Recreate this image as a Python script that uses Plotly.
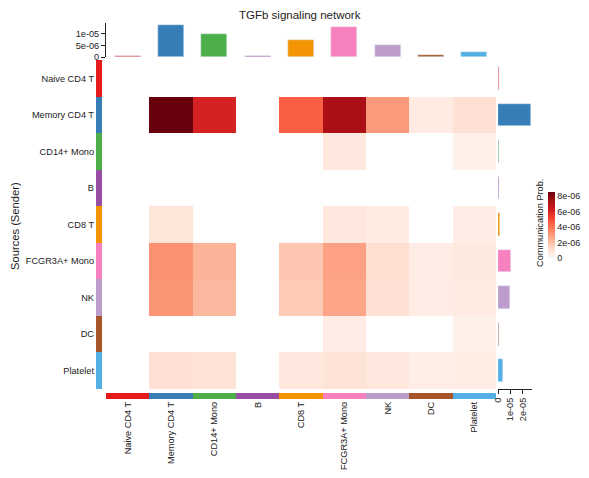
import plotly.graph_objects as go

# cell groups (senders on rows, receivers on columns)
cell_types = ["Naive CD4 T", "Memory CD4 T", "CD14+ Mono", "B", "CD8 T",
              "FCGR3A+ Mono", "NK", "DC", "Platelet"]
group_colors = ["#e41a1c", "#377eb8", "#4daf4a", "#984ea3", "#f29403",
                "#f781bf", "#bc9dcc", "#a65628", "#54b0e4"]

# communication probability, rows = sender, cols = receiver (None = 0)
prob = [
    [None, None, None, None, None, None, None, None, None],
    [None, 8.5e-06, 6.1e-06, None, 4.5e-06, 7.3e-06, 3.0e-06, 0.5e-06, 1.0e-06],
    [None, None, None, None, None, 0.7e-06, None, None, 0.2e-06],
    [None, None, None, None, None, None, None, None, None],
    [None, 0.8e-06, None, None, None, 0.7e-06, 0.5e-06, None, 0.4e-06],
    [None, 3.2e-06, 2.3e-06, None, 1.8e-06, 2.8e-06, 1.1e-06, 0.4e-06, 0.6e-06],
    [None, 3.1e-06, 2.2e-06, None, 1.7e-06, 2.7e-06, 1.0e-06, 0.4e-06, 0.5e-06],
    [None, None, None, None, None, 0.4e-06, None, None, 0.2e-06],
    [None, 1.0e-06, 0.9e-06, None, 0.7e-06, 0.9e-06, 0.7e-06, 0.35e-06, 0.45e-06],
]

# column totals (top barplot) and row totals (right barplot)
incoming = [0.04e-05, 1.38e-05, 0.97e-05, 0.03e-05, 0.72e-05,
            1.28e-05, 0.52e-05, 0.09e-05, 0.20e-05]
outgoing = [0.06e-05, 2.63e-05, 0.11e-05, 0.06e-05, 0.16e-05,
            1.04e-05, 0.96e-05, 0.08e-05, 0.38e-05]

cbar_vals = [0, 2e-06, 4e-06, 6e-06, 8e-06]
cbar_text = ["0", "2e-06", "4e-06", "6e-06", "8e-06"]
top_vals = [0, 5e-06, 1e-05]
top_text = ["0", "5e-06", "1e-05"]
right_vals = [0, 1e-05, 2e-05]
right_text = ["0", "1e-05", "2e-05"]

reds = [[0, "#FFF5F0"], [0.125, "#FEE0D2"], [0.25, "#FCBBA1"], [0.375, "#FC9272"],
        [0.5, "#FB6A4A"], [0.625, "#EF3B2C"], [0.75, "#CB181D"], [0.875, "#A50F15"],
        [1, "#67000D"]]

# page has an 8px body margin, so work in screen pixels and shift
OFF = 8
W, H = 573, 462
FONT = "Liberation Sans, Arial, sans-serif"
TXT = "#222"
FS = 9.2


def px(x):
    return (x - OFF) / W


def py(y):
    return 1 - (y - OFF) / H


fig = go.Figure()

# main heatmap
fig.add_trace(go.Heatmap(
    z=prob, x=cell_types, y=cell_types, colorscale=reds, zmin=0, zmax=8.5e-06,
    xaxis="x", yaxis="y", hoverongaps=False,
    colorbar=dict(x=px(548), xanchor="left", y=py(225), yanchor="middle",
                  len=66 / H, lenmode="fraction", thickness=7, outlinewidth=0,
                  xpad=0, ypad=0,
                  ticks="", tickvals=cbar_vals, ticktext=cbar_text,
                  tickfont=dict(size=9, color=TXT))
))

# top barplot (incoming)
fig.add_trace(go.Bar(x=cell_types, y=incoming, marker_color=group_colors,
                     width=0.6, xaxis="x", yaxis="y2", showlegend=False))

# right barplot (outgoing)
fig.add_trace(go.Bar(x=outgoing, y=cell_types, orientation="h",
                     marker_color=group_colors, width=0.62,
                     xaxis="x2", yaxis="y", showlegend=False))

# left colour strip
fig.add_trace(go.Bar(x=[1] * 9, y=cell_types, orientation="h",
                     marker=dict(color=group_colors, line_width=0), width=1,
                     xaxis="x3", yaxis="y", showlegend=False, hoverinfo="skip"))

# bottom colour strip
fig.add_trace(go.Bar(x=cell_types, y=[1] * 9,
                     marker=dict(color=group_colors, line_width=0), width=1,
                     xaxis="x", yaxis="y4", showlegend=False, hoverinfo="skip"))

fig.update_layout(
    width=W, height=H,
    margin=dict(l=0, r=0, t=0, b=0, autoexpand=False),
    paper_bgcolor="white", plot_bgcolor="white",
    font=dict(family=FONT, size=FS, color=TXT),
    bargap=0,
    xaxis=dict(domain=[px(106), px(496)], anchor="y4", type="category",
               categoryorder="array", categoryarray=cell_types, range=[-0.5, 8.5],
               tickangle=-90, ticks="", showline=False, showgrid=False, zeroline=False,
               automargin=False),
    yaxis=dict(domain=[py(389), py(60)], anchor="free", position=px(96), type="category",
               categoryorder="array", categoryarray=cell_types, range=[8.5, -0.5],
               ticks="", showline=False, showgrid=False, zeroline=False,
               ticklabelstandoff=2, automargin=False),
    yaxis2=dict(domain=[py(57), py(23)], anchor="x", range=[0, 1.45e-05],
                showline=True, linecolor=TXT, linewidth=1, ticks="outside",
                ticklen=4, tickcolor=TXT, tickvals=top_vals, ticktext=top_text,
                showgrid=False, zeroline=False, automargin=False),
    xaxis2=dict(domain=[px(498), px(532)], anchor="y", range=[0, 2.74e-05],
                showline=True, linecolor=TXT, linewidth=1, ticks="outside",
                ticklen=4, tickcolor=TXT, tickvals=right_vals, ticktext=right_text,
                tickangle=-90, showgrid=False, zeroline=False, automargin=False),
    xaxis3=dict(domain=[px(96), px(102)], anchor="y", range=[0, 1], visible=False),
    yaxis4=dict(domain=[py(399), py(393)], anchor="x", range=[0, 1], visible=False),
    annotations=[
        dict(text="TGFb signaling network", x=px(300), y=py(15), xref="paper", yref="paper",
             xanchor="center", yanchor="middle", showarrow=False,
             font=dict(size=11.5, color=TXT)),
        dict(text="Sources (Sender)", x=px(15), y=py(226), xref="paper", yref="paper",
             xanchor="center", yanchor="middle", textangle=-90, showarrow=False,
             font=dict(size=11.2, color=TXT)),
        dict(text="Communication Prob.", x=px(540), y=py(223), xref="paper", yref="paper",
             xanchor="center", yanchor="middle", textangle=-90, showarrow=False,
             font=dict(size=FS, color=TXT)),
    ],
)

fig.write_html("out.html")
